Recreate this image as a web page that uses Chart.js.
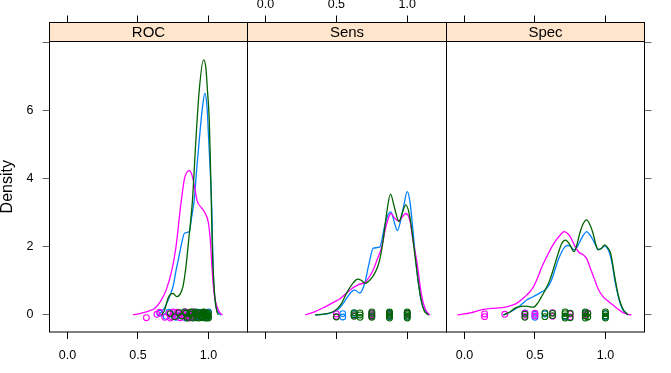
<!DOCTYPE html>
<html>
<head>
<meta charset="utf-8">
<script src="https://cdn.jsdelivr.net/npm/chart.js@4.4.0/dist/chart.umd.min.js"></script>
<style>
html, body { margin: 0; padding: 0; background: #fff; }
#wrap { position: relative; width: 671px; height: 373px; }
#wrap canvas { position: absolute; left: 0; top: 0; }
</style>
</head>
<body>
<div id="wrap">
  <canvas id="rocPanel" width="671" height="373"></canvas>
  <canvas id="sensPanel" width="671" height="373"></canvas>
  <canvas id="specPanel" width="671" height="373"></canvas>
</div>
<script>
// panel names, tick labels, axis ranges
var panels = ["ROC", "Sens", "Spec"];
var xTicks = [0.0, 0.5, 1.0];
var yTicks = [0, 2, 4, 6, 8];
var yLabels = ["0", "2", "4", "6", ""];
var xRange = [-0.127, 1.277];
var yRange = [-0.5, 8.03];

// density curves [x, density]
var rocBlue = [[0.64,0],[0.67,0.1],[0.70,0.3],[0.73,0.6],[0.75,0.85],[0.77,1.3],[0.79,1.7],[0.81,2.1],[0.83,2.4],[0.865,2.45],[0.88,2.85],[0.90,3.4],[0.915,4.2],[0.935,5.14],[0.955,6.0],[0.975,6.51],[0.99,6.1],[1.0,5.3],[1.012,4.3],[1.024,3.1],[1.033,1.4],[1.045,0.5],[1.06,0.15],[1.08,0.03],[1.09,0]];
var rocMagenta = [[0.465,0],[0.52,0.05],[0.58,0.12],[0.62,0.2],[0.66,0.4],[0.70,0.73],[0.74,1.3],[0.77,2.0],[0.80,3.1],[0.83,4.0],[0.864,4.24],[0.88,4.15],[0.90,3.8],[0.92,3.35],[0.95,3.15],[0.975,3.0],[1.0,2.7],[1.015,2.1],[1.025,1.4],[1.04,0.64],[1.06,0.25],[1.08,0.07],[1.10,0]];
var rocGreen = [[0.67,0],[0.69,0.15],[0.71,0.45],[0.735,0.62],[0.75,0.63],[0.775,0.54],[0.80,0.62],[0.82,0.85],[0.84,1.4],[0.86,2.2],[0.887,3.38],[0.911,5.14],[0.935,6.61],[0.965,7.49],[0.982,7.25],[0.993,6.6],[1.005,5.8],[1.012,4.8],[1.02,3.4],[1.026,2.2],[1.033,1.4],[1.04,0.83],[1.05,0.35],[1.06,0.1],[1.07,0]];

var sensBlue = [[0.35,0],[0.45,0.05],[0.51,0.15],[0.55,0.35],[0.58,0.54],[0.61,0.7],[0.63,0.73],[0.665,0.64],[0.70,0.93],[0.73,1.5],[0.76,1.96],[0.805,1.99],[0.84,2.6],[0.865,2.95],[0.885,3.03],[0.91,2.7],[0.93,2.48],[0.955,2.8],[0.975,3.2],[1.0,3.62],[1.02,3.3],[1.04,2.5],[1.06,1.62],[1.08,0.9],[1.1,0.4],[1.12,0.15],[1.14,0.05],[1.15,0]];
var sensMagenta = [[0.28,0],[0.35,0.1],[0.42,0.24],[0.48,0.37],[0.53,0.49],[0.60,0.75],[0.66,0.9],[0.70,0.95],[0.73,1.1],[0.76,1.32],[0.79,1.65],[0.82,2.0],[0.85,2.6],[0.885,2.98],[0.91,2.85],[0.94,2.76],[0.96,2.85],[0.99,2.98],[1.02,2.75],[1.04,2.2],[1.07,1.5],[1.10,0.6],[1.125,0.2],[1.15,0.03],[1.16,0]];
var sensGreen = [[0.35,0],[0.42,0.03],[0.48,0.1],[0.53,0.3],[0.58,0.7],[0.62,0.95],[0.65,1.05],[0.675,1.02],[0.705,0.93],[0.73,1.0],[0.76,1.15],[0.79,1.4],[0.81,1.7],[0.83,2.2],[0.855,3.0],[0.882,3.55],[0.91,3.15],[0.943,2.74],[0.965,3.0],[0.99,3.23],[1.015,2.95],[1.035,2.4],[1.06,1.55],[1.08,0.9],[1.10,0.4],[1.12,0.12],[1.14,0.03],[1.15,0]];

var specBlue = [[0.276,0],[0.32,0.08],[0.37,0.2],[0.41,0.33],[0.441,0.44],[0.48,0.52],[0.512,0.59],[0.545,0.67],[0.571,0.73],[0.595,0.85],[0.618,1.03],[0.64,1.3],[0.665,1.62],[0.69,1.85],[0.712,2.0],[0.73,2.04],[0.748,2.03],[0.778,1.91],[0.80,2.0],[0.818,2.15],[0.845,2.35],[0.866,2.45],[0.89,2.35],[0.912,2.2],[0.93,2.05],[0.948,1.93],[0.97,1.95],[0.995,2.03],[1.015,1.95],[1.03,1.81],[1.05,1.45],[1.066,1.03],[1.085,0.65],[1.101,0.39],[1.12,0.18],[1.149,0.05],[1.16,0]];
var specMagenta = [[-0.05,0],[0.0,0.03],[0.05,0.07],[0.10,0.13],[0.15,0.17],[0.22,0.2],[0.29,0.23],[0.34,0.29],[0.37,0.34],[0.40,0.43],[0.43,0.54],[0.46,0.66],[0.49,0.83],[0.52,1.1],[0.55,1.42],[0.585,1.72],[0.62,2.0],[0.65,2.2],[0.68,2.35],[0.707,2.45],[0.73,2.4],[0.75,2.3],[0.78,2.05],[0.81,1.85],[0.84,1.77],[0.866,1.66],[0.895,1.35],[0.924,1.03],[0.95,0.75],[0.983,0.54],[1.02,0.4],[1.054,0.29],[1.09,0.17],[1.124,0.07],[1.16,0.02],[1.184,0]];
var specGreen = [[0.276,0],[0.32,0.08],[0.36,0.2],[0.39,0.24],[0.417,0.26],[0.45,0.25],[0.488,0.23],[0.52,0.35],[0.547,0.54],[0.575,0.75],[0.606,1.03],[0.635,1.4],[0.665,1.81],[0.69,2.1],[0.717,2.2],[0.735,2.14],[0.748,2.06],[0.778,1.86],[0.80,2.1],[0.818,2.4],[0.845,2.7],[0.866,2.79],[0.89,2.65],[0.912,2.4],[0.93,2.1],[0.948,1.91],[0.97,1.95],[0.995,2.06],[1.015,1.98],[1.037,1.81],[1.055,1.4],[1.07,1.03],[1.09,0.6],[1.108,0.34],[1.13,0.13],[1.149,0.05],[1.16,0]];

// resample points (jittered a little around 0)
var rocBluePts = [[0.655,0.05],[0.70,-0.04],[0.72,0.08],[0.75,0.0],[0.77,-0.07],[0.79,0.06],[0.80,0.0],[0.81,-0.02],[0.83,0.09],[0.84,-0.09],[0.85,-0.06],[0.86,0.03],[0.87,-0.02],[0.88,0.07],[0.89,-0.08],[0.90,0.09],[0.91,0.02],[0.92,-0.05],[0.93,0.08],[0.94,-0.01],[0.95,-0.03],[0.96,0.05],[0.97,-0.08],[0.98,0.01],[0.99,0.07],[1.0,-0.05],[1.0,0.09]];
var rocMagentaPts = [[0.56,-0.08],[0.635,0.02],[0.655,0.08],[0.69,-0.07],[0.72,0.04],[0.73,-0.09],[0.74,-0.05],[0.75,0.09],[0.76,0.07],[0.77,-0.02],[0.78,0.08],[0.79,0.05],[0.80,-0.08],[0.81,0.0],[0.82,0.02],[0.83,-0.06],[0.835,0.09],[0.845,0.08],[0.86,-0.03],[0.865,-0.09],[0.87,0.04],[0.88,-0.07],[0.89,0.09],[0.90,0.06],[0.91,-0.02],[0.93,0.03],[0.95,-0.06],[0.97,0.05]];
var rocGreenPts = [[0.73,0.04],[0.76,-0.05],[0.79,0.07],[0.81,-0.03],[0.83,0.09],[0.84,0.05],[0.85,-0.09],[0.86,-0.07],[0.87,0.02],[0.875,0.09],[0.885,0.08],[0.89,-0.09],[0.895,-0.04],[0.905,0.03],[0.91,0.09],[0.915,-0.08],[0.92,0.0],[0.925,0.06],[0.93,-0.09],[0.935,-0.02],[0.94,0.04],[0.945,0.07],[0.95,-0.08],[0.955,-0.06],[0.96,0.02],[0.965,0.09],[0.97,0.08],[0.975,-0.04],[0.98,-0.09],[0.985,0.05],[0.99,-0.08],[0.99,0.03],[0.995,0.01],[1.0,0.07],[1.0,-0.03],[1.0,-0.09]];

var sensBluePts = [[0.545,-0.06],[0.545,0.04],[0.625,0.05],[0.75,-0.03],[0.875,0.07],[0.875,-0.05],[0.875,0.02],[1.0,0.06],[1.0,-0.07]];
var sensMagentaPts = [[0.5,0.03],[0.5,-0.04],[0.625,-0.02],[0.75,0.06],[0.75,-0.05],[0.75,0.01],[0.875,0.0],[1.0,0.04]];
var sensGreenPts = [[0.5,-0.06],[0.625,0.07],[0.625,-0.04],[0.625,0.01],[0.667,0.06],[0.667,-0.07],[0.667,0.0],[0.75,0.04],[0.75,-0.07],[0.75,0.09],[0.75,-0.02],[0.875,0.09],[0.875,-0.09],[0.875,0.05],[0.875,-0.04],[0.875,0.0],[1.0,0.09],[1.0,-0.09],[1.0,0.05],[1.0,-0.04],[1.0,0.0]];

var specBluePts = [[0.429,0.06],[0.5,-0.07],[0.5,0.02],[0.571,0.03],[0.714,-0.05],[0.857,0.07],[1.0,-0.06],[1.0,0.04]];
var specMagentaPts = [[0.143,-0.05],[0.143,0.03],[0.286,0.02],[0.429,-0.04],[0.429,0.05],[0.5,0.05],[0.5,-0.03],[0.625,0.07],[0.625,-0.04],[0.75,-0.06],[0.75,0.03],[0.857,0.0],[0.875,0.06]];
var specGreenPts = [[0.429,0.02],[0.429,-0.07],[0.571,0.06],[0.571,-0.05],[0.625,-0.02],[0.625,0.05],[0.714,0.09],[0.714,-0.09],[0.714,0.04],[0.714,-0.03],[0.75,0.05],[0.75,-0.08],[0.857,0.09],[0.857,-0.09],[0.857,0.04],[0.857,-0.03],[0.875,0.04],[0.875,-0.06],[1.0,0.09],[1.0,-0.09],[1.0,0.04],[1.0,-0.03]];

var blue = '#0080ff', magenta = '#ff00ff', green = '#006400';
var tickFont = { family: "'Liberation Sans', Arial, sans-serif", size: 12.5 };

Chart.defaults.font.family = "'Liberation Sans', Arial, sans-serif";
Chart.defaults.animation = false;

function xy(pairs) {
    return pairs.map(function (p) { return { x: p[0], y: p[1] }; });
}

function curve(pairs, col) {
    return { data: xy(pairs), showLine: true, borderColor: col, borderWidth: 1.3,
             pointRadius: 0, cubicInterpolationMode: 'monotone', fill: false };
}

function rug(pairs, col) {
    return { data: xy(pairs), showLine: false, pointStyle: 'circle', pointRadius: 2.9,
             borderColor: col, backgroundColor: 'rgba(0,0,0,0)', borderWidth: 1.1 };
}

// strip on top of each panel and the panel box
var stripPlugin = {
    id: 'strip',
    afterDraw: function (chart, args, opts) {
        var a = chart.chartArea, ctx = chart.ctx;
        ctx.save();
        ctx.fillStyle = '#ffe5cc';
        ctx.fillRect(a.left, a.top - 19, a.right - a.left, 19);
        ctx.strokeStyle = '#000';
        ctx.lineWidth = 1;
        ctx.strokeRect(a.left, a.top - 19, a.right - a.left, 19);
        ctx.strokeRect(a.left, a.top, a.right - a.left, a.bottom - a.top);
        ctx.fillStyle = '#000';
        ctx.font = "15px 'Liberation Sans', Arial, sans-serif";
        ctx.textAlign = 'center';
        ctx.textBaseline = 'middle';
        ctx.fillText(opts.label, (a.left + a.right) / 2, a.top - 9);
        ctx.restore();
    }
};

function xAxis(pos, showLabels, size) {
    return {
        type: 'linear', position: pos, min: xRange[0], max: xRange[1],
        afterBuildTicks: function (s) { s.ticks = xTicks.map(function (v) { return { value: v }; }); },
        afterFit: function (s) { s.height = size; },
        ticks: { autoSkip: false, maxRotation: 0, padding: pos === 'top' ? 3 : 9, font: tickFont, color: '#000',
                 callback: function (v) { return showLabels ? v.toFixed(1) : ''; } },
        grid: { drawOnChartArea: false, tickLength: pos === 'top' ? 26 : 7, color: '#000' },
        border: { display: false }
    };
}

function yAxis(pos, show, showLabels, size) {
    return {
        type: 'linear', position: pos, display: show, min: yRange[0], max: yRange[1],
        afterBuildTicks: function (s) { s.ticks = yTicks.map(function (v) { return { value: v }; }); },
        afterFit: function (s) { s.width = show ? size : 0; },
        ticks: { autoSkip: false, padding: 9, font: tickFont, color: '#000',
                 callback: function (v) { return showLabels ? yLabels[yTicks.indexOf(v)] : ''; } },
        grid: { drawOnChartArea: false, tickLength: 7, color: '#666' },
        border: { display: false },
        title: { display: showLabels, text: 'Density', color: '#000', padding: 0,
                 font: { size: 16, lineHeight: 1 } }
    };
}

function drawPanel(id, label, sets, layout) {
    var ctx = document.getElementById(id).getContext('2d');
    return new Chart(ctx, {
        type: 'scatter',
        data: {
            datasets: [
                rug(sets.greenPts, green), curve(sets.green, green),
                rug(sets.magentaPts, magenta), curve(sets.magenta, magenta),
                rug(sets.bluePts, blue), curve(sets.blue, blue)
            ]
        },
        options: {
            responsive: false,
            layout: { padding: layout.padding },
            scales: {
                x: xAxis('bottom', layout.bottomLabels, 41),
                x2: xAxis('top', layout.topLabels, 41.5),
                y: yAxis('left', layout.left, true, 49.5),
                y2: yAxis('right', layout.right, false, 26.5)
            },
            plugins: {
                legend: { display: false },
                tooltip: { enabled: false },
                strip: { label: label }
            }
        },
        plugins: [stripPlugin]
    });
}

drawPanel('rocPanel', panels[0],
    { blue: rocBlue, magenta: rocMagenta, green: rocGreen,
      bluePts: rocBluePts, magentaPts: rocMagentaPts, greenPts: rocGreenPts },
    { padding: { left: 0, right: 423.5, top: 0, bottom: 0 }, bottomLabels: true, topLabels: false, left: true, right: false });

drawPanel('sensPanel', panels[1],
    { blue: sensBlue, magenta: sensMagenta, green: sensGreen,
      bluePts: sensBluePts, magentaPts: sensMagentaPts, greenPts: sensGreenPts },
    { padding: { left: 247.5, right: 224.5, top: 0, bottom: 0 }, bottomLabels: false, topLabels: true, left: false, right: false });

drawPanel('specPanel', panels[2],
    { blue: specBlue, magenta: specMagenta, green: specGreen,
      bluePts: specBluePts, magentaPts: specMagentaPts, greenPts: specGreenPts },
    { padding: { left: 446.5, right: 0, top: 0, bottom: 0 }, bottomLabels: true, topLabels: false, left: false, right: true });
</script>
</body>
</html>
